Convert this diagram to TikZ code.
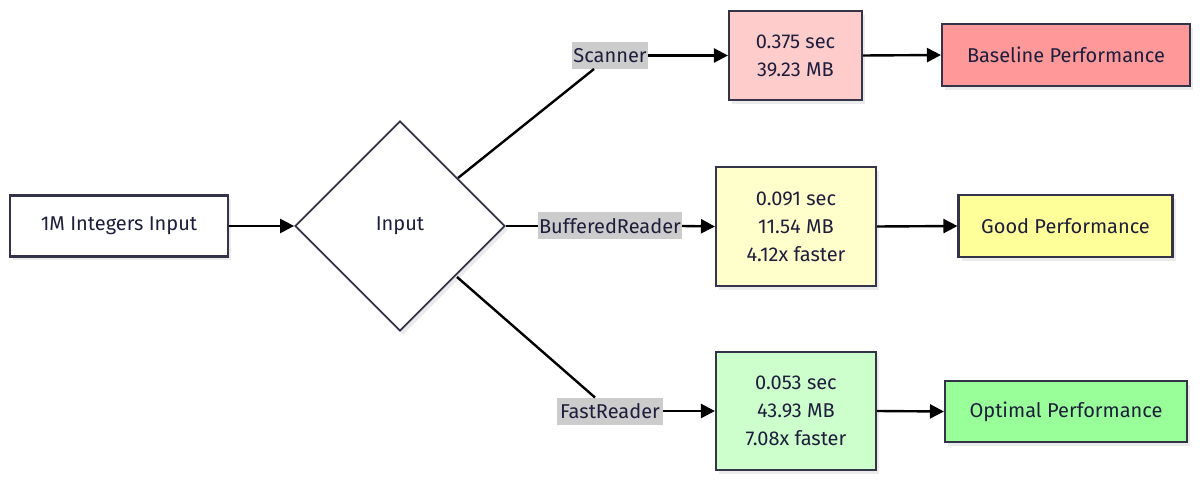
\documentclass[tikz,border=0pt]{standalone}
\usepackage{fontspec}
\setmainfont{Fira Sans}
\usetikzlibrary{arrows.meta,shapes.geometric,shadows}
\definecolor{txt}{HTML}{1E1E3C}
\definecolor{bord}{HTML}{33334A}
\definecolor{redA}{HTML}{FFCCCC}
\definecolor{redB}{HTML}{FF9999}
\definecolor{yelA}{HTML}{FFFFCC}
\definecolor{yelB}{HTML}{FFFF99}
\definecolor{grnA}{HTML}{CCFFCC}
\definecolor{grnB}{HTML}{99FF99}
\definecolor{labg}{HTML}{CCCCCC}
\tikzset{
  box/.style={draw=bord, line width=2.1pt, text=txt, inner sep=0pt, align=center,
    font=\fontsize{20}{28}\selectfont,
    drop shadow={shadow xshift=3pt, shadow yshift=-4pt, fill=black!8, opacity=1}},
  lab/.style={fill=labg, text=txt, inner sep=1pt, font=\fontsize{20}{22}\selectfont},
  edge/.style={line width=2.4pt, black},
  arr/.style={edge, -{Triangle[length=14pt,width=14pt]}},
}
\begin{document}
\begin{tikzpicture}[x=1pt,y=-1pt]
\useasboundingbox (0,0) rectangle (1200,481);
\node[box, fill=white, minimum width=218pt, minimum height=61pt] (in) at (119,226) {1M Integers Input};
\node[box, diamond, fill=white, line width=1.8pt, minimum width=210pt, minimum height=210pt] (dia) at (400,226) {Input};
\node[lab, minimum width=74pt, minimum height=27pt] (l1) at (610,55.5) {Scanner};
\node[lab, minimum width=144pt, minimum height=27pt] (l2) at (610,226) {BufferedReader};
\node[lab, minimum width=106pt, minimum height=27pt] (l3) at (610,411) {FastReader};
\node[box, fill=redA, minimum width=133pt, minimum height=89pt] (r1) at (795.5,55.5) {0.375 sec\\39.23 MB};
\node[box, fill=yelA, minimum width=160pt, minimum height=119pt] (r2) at (796,226.5) {0.091 sec\\11.54 MB\\4.12x faster};
\node[box, fill=grnA, minimum width=160pt, minimum height=118pt] (r3) at (796,411) {0.053 sec\\43.93 MB\\7.08x faster};
\node[box, fill=redB, minimum width=248pt, minimum height=62pt] (p1) at (1066,55) {Baseline Performance};
\node[box, fill=yelB, minimum width=214pt, minimum height=62pt] (p2) at (1065.5,226) {Good Performance};
\node[box, fill=grnB, minimum width=242pt, minimum height=61pt] (p3) at (1066,411.5) {Optimal Performance};
\coordinate (u) at (458,178);
\coordinate (d) at (457,277);
\coordinate (ue) at (594,69);
\coordinate (de) at (595,397.5);
\draw[arr] (in.east) -- (dia.west);
\draw[edge] (u) -- (ue);
\draw[edge] (dia.east) -- (l2.west);
\draw[edge] (d) -- (de);
\draw[arr] (l1.east) -- (r1.west);
\draw[arr] (l2.east) -- (r2.west);
\draw[arr] (l3.east) -- (r3.west);
\draw[arr] (r1.east) -- (p1.west);
\draw[arr] (r2.east) -- (p2.west);
\draw[arr] (r3.east) -- (p3.west);
\end{tikzpicture}
\end{document}
